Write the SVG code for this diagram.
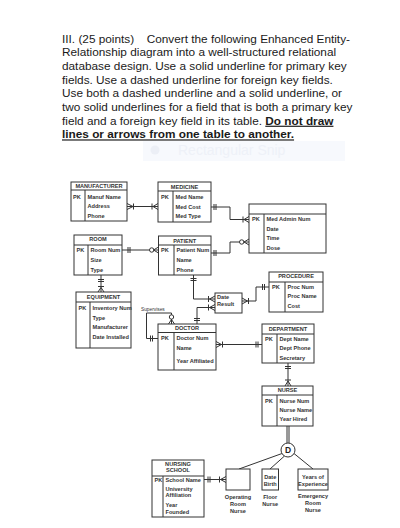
<svg xmlns="http://www.w3.org/2000/svg" width="400" height="528" viewBox="0 0 400 528">
<style>
.q{font-family:"Liberation Sans",Arial,sans-serif;font-size:11.8px;fill:#1a1a1a}
.b{font-weight:bold;text-decoration:underline}
.t{font-family:"Liberation Sans",Arial,sans-serif;font-size:5.6px;font-weight:bold;fill:#333}
.c{text-anchor:middle}
.bx{fill:#fff;stroke:#333;stroke-width:1}
.ln{fill:none;stroke:#333;stroke-width:1}
.sm{font-family:"Liberation Sans",Arial,sans-serif;font-size:4.8px;fill:#333}
</style>
<rect width="400" height="528" fill="#fff"/>
<rect x="143" y="141" width="202" height="20" fill="#f7f9fd"/>
<circle cx="155" cy="150" r="4.5" fill="#eceff6"/>
<text x="178" y="155.3" font-family="Liberation Sans,Arial,sans-serif" font-size="14" fill="#eef1f8">Rectangular Snip</text>
<g id="question">
<text class="q" x="62" y="42.5">III. (25 points)<tspan x="146.7">Convert the following Enhanced Entity-</tspan></text>
<text class="q" x="62" y="56.2">Relationship diagram into a well-structured relational</text>
<text class="q" x="62" y="69.9">database design. Use a solid underline for primary key</text>
<text class="q" x="62" y="83.6">fields. Use a dashed underline for foreign key fields.</text>
<text class="q" x="62" y="97.3">Use both a dashed underline and a solid underline, or</text>
<text class="q" x="62" y="111">two solid underlines for a field that is both a primary key</text>
<text class="q" x="62" y="124.7">field and a foreign key field in its table. <tspan class="b">Do not draw</tspan></text>
<text class="q b" x="62" y="138.4">lines or arrows from one table to another.</text>
</g>
<g id="connectors" class="ln">
<path d="M127,206.5H158"/>
<path d="M133,206.5L127,203.5M133,206.5L127,209.5M133.5,203.5V209.5"/>
<path d="M153,206.5L158,203.5M153,206.5L158,209.5M152,203.5V209.5"/>
<path d="M211,207H230V219.5H249"/>
<path d="M214,204V210M216,204V210"/>
<path d="M244,219.5L249,216.5M244,219.5L249,222.5M243,216.5V222.5"/>
<path d="M211,253H230V242H239.5M243.8,242H249"/>
<circle cx="241.7" cy="242" r="2.2"/>
<path d="M244,242L249,239M244,242L249,245"/>
<path d="M214,250V256M216,250V256"/>
<path d="M122,250H149.5M153.8,250H158.5"/>
<circle cx="151.7" cy="250" r="2.2"/>
<path d="M153.5,250L158.5,247M153.5,250L158.5,253"/>
<path d="M128,247V253M130,247V253"/>
<path d="M101,275V292"/>
<path d="M98,279.5H104M98,281.5H104"/>
<path d="M98,286.5H104M101,287.5L98,292M101,287.5L104,292"/>
<path d="M193.5,275V299H215"/>
<path d="M190.5,278.5H196.5M190.5,280.5H196.5"/>
<path d="M209.5,299L215,296M209.5,299L215,302M208.5,296V302"/>
<path d="M242,301H256V287H269"/>
<path d="M247.5,301L242,298M247.5,301L242,304M248.5,298V304"/>
<path d="M262.5,284V290M264.5,284V290"/>
<path d="M215,307.5H197V324"/>
<path d="M209.5,307.5L215,304.5M209.5,307.5L215,310.5M208.5,304.5V310.5"/>
<path d="M194,318.5H200M194,320.5H200"/>
<path d="M158,338.5H146.5V313H171.5V314.8M171.5,319.2V324"/>
<circle cx="171.5" cy="317" r="2.2"/>
<path d="M171.5,319.5L168.5,324M171.5,319.5L174.5,324"/>
<path d="M150.5,335.5V341.5M152.5,335.5V341.5"/>
<path d="M216,344.5H262"/>
<path d="M221.5,344.5L216,341.5M221.5,344.5L216,347.5M222.5,341.5V347.5"/>
<path d="M256,341.5V347.5M258,341.5V347.5"/>
<path d="M288,363V386"/>
<path d="M285,366.5H291M285,368.5H291"/>
<path d="M285,380H291M288,381L285,386M288,381L291,386"/>
<path d="M287,426V443.2M289,426V443.2"/>
<path d="M282,453.5L239,469M284.5,456L270,469M294,453.5L313,469"/>
<path d="M204,479.5H226"/>
<path d="M208,476.5V482.5M210,476.5V482.5"/>
<path d="M220.5,479.5L226,476.5M220.5,479.5L226,482.5M219.5,476.5V482.5"/>
</g>
<text class="sm" x="141" y="310.8">Supervises</text>
<g id="manufacturer">
<rect class="bx" x="71" y="182" width="56" height="39"/>
<path class="ln" d="M71,190H127M85,190V221"/>
<text class="t c" x="99" y="187.8">MANUFACTURER</text>
<text class="t" x="73" y="198.5">PK</text>
<text class="t" x="87.5" y="198.5">Manuf Name</text>
<text class="t" x="87.5" y="208.3">Address</text>
<text class="t" x="87.5" y="218">Phone</text>
</g>
<g id="medicine">
<rect class="bx" x="158" y="182" width="53" height="40"/>
<path class="ln" d="M158,191H211M173,191V222"/>
<text class="t c" x="184.5" y="188.7">MEDICINE</text>
<text class="t" x="161" y="198.7">PK</text>
<text class="t" x="175.5" y="198.7">Med Name</text>
<text class="t" x="175.5" y="208.5">Med Cost</text>
<text class="t" x="175.5" y="218">Med Type</text>
</g>
<g id="med-admin">
<rect class="bx" x="249" y="204" width="77" height="49"/>
<path class="ln" d="M249,214H326M264,214V253"/>
<text class="t" x="252" y="221.3">PK</text>
<text class="t" x="266.5" y="221.3">Med Admin Num</text>
<text class="t" x="266.5" y="231">Date</text>
<text class="t" x="266.5" y="240.3">Time</text>
<text class="t" x="266.5" y="250">Dose</text>
</g>
<g id="room">
<rect class="bx" x="74" y="235" width="48" height="40"/>
<path class="ln" d="M74,245H122M88,245V275"/>
<text class="t c" x="98" y="241.2">ROOM</text>
<text class="t" x="76.5" y="252">PK</text>
<text class="t" x="90.5" y="252">Room Num</text>
<text class="t" x="90.5" y="261.8">Size</text>
<text class="t" x="90.5" y="271.5">Type</text>
</g>
<g id="patient">
<rect class="bx" x="158.5" y="236" width="52.5" height="39"/>
<path class="ln" d="M158.5,245H211M174,245V275"/>
<text class="t c" x="184.7" y="242.5">PATIENT</text>
<text class="t" x="161" y="252">PK</text>
<text class="t" x="176.5" y="252">Patient Num</text>
<text class="t" x="176.5" y="261.8">Name</text>
<text class="t" x="176.5" y="271.5">Phone</text>
</g>
<g id="procedure">
<rect class="bx" x="269" y="272" width="54" height="40"/>
<path class="ln" d="M269,282H323M285,282V312"/>
<text class="t c" x="296" y="278.2">PROCEDURE</text>
<text class="t" x="272" y="288.8">PK</text>
<text class="t" x="287.5" y="288.8">Proc Num</text>
<text class="t" x="287.5" y="298.2">Proc Name</text>
<text class="t" x="287.5" y="307.5">Cost</text>
</g>
<g id="date-result">
<rect class="bx" x="215" y="293" width="27" height="20"/>
<text class="t" x="217" y="299">Date</text>
<text class="t" x="217" y="305.8">Result</text>
</g>
<g id="equipment">
<rect class="bx" x="76" y="292" width="55" height="56"/>
<path class="ln" d="M76,302H131M90,302V348"/>
<text class="t c" x="103.5" y="299.3">EQUIPMENT</text>
<text class="t" x="78.5" y="310.3">PK</text>
<text class="t" x="92.5" y="310.3">Inventory Num</text>
<text class="t" x="92.5" y="319.5">Type</text>
<text class="t" x="92.5" y="328.8">Manufacturer</text>
<text class="t" x="92.5" y="338.7">Date Installed</text>
</g>
<g id="doctor">
<rect class="bx" x="158" y="324" width="58" height="46"/>
<path class="ln" d="M158,332.5H216M174,332.5V370"/>
<text class="t c" x="187" y="330.3">DOCTOR</text>
<text class="t" x="161" y="340.3">PK</text>
<text class="t" x="176.5" y="340.3">Doctor Num</text>
<text class="t" x="176.5" y="350">Name</text>
<text class="t" x="176.5" y="363.3">Year Affiliated</text>
</g>
<g id="department">
<rect class="bx" x="262" y="324" width="52" height="39"/>
<path class="ln" d="M262,334H314M277,334V363"/>
<text class="t c" x="288" y="331">DEPARTMENT</text>
<text class="t" x="265" y="341">PK</text>
<text class="t" x="279.5" y="341">Dept Name</text>
<text class="t" x="279.5" y="350.3">Dept Phone</text>
<text class="t" x="279.5" y="359.7">Secretary</text>
</g>
<g id="nurse">
<rect class="bx" x="262" y="386" width="51" height="40"/>
<path class="ln" d="M262,395H313M277,395V426"/>
<text class="t c" x="287.5" y="392.2">NURSE</text>
<text class="t" x="265" y="402.7">PK</text>
<text class="t" x="279.5" y="402.7">Nurse Num</text>
<text class="t" x="279.5" y="412">Nurse Name</text>
<text class="t" x="279.5" y="421.3">Year Hired</text>
</g>
<g id="disjoint">
<circle cx="288" cy="450" r="7" fill="#fff" stroke="#333" stroke-width="1"/>
<text x="288" y="453" text-anchor="middle" font-family="Liberation Sans,Arial,sans-serif" font-size="8.5" font-weight="bold" fill="#222">D</text>
</g>
<g id="operating-room-nurse">
<rect class="bx" x="226" y="469" width="24" height="21"/>
<text class="t c" x="238" y="498.5">Operating</text>
<text class="t c" x="238" y="505.5">Room</text>
<text class="t c" x="238" y="512.5">Nurse</text>
</g>
<g id="floor-nurse">
<rect class="bx" x="262" y="469" width="16.5" height="21"/>
<text class="t c" x="270.2" y="478.5">Date</text>
<text class="t c" x="270.2" y="485.5">Birth</text>
<text class="t c" x="270.2" y="499">Floor</text>
<text class="t c" x="270.2" y="506">Nurse</text>
</g>
<g id="emergency-room-nurse">
<rect class="bx" x="298" y="469" width="30" height="21"/>
<text class="t c" x="313" y="478.5">Years of</text>
<text class="t c" x="313" y="485.5">Experience</text>
<text class="t c" x="313" y="498">Emergency</text>
<text class="t c" x="313" y="505">Room</text>
<text class="t c" x="313" y="512">Nurse</text>
</g>
<g id="nursing-school">
<rect class="bx" x="152" y="460" width="52" height="57"/>
<path class="ln" d="M152,476H204M163,476V517"/>
<text class="t c" x="178" y="465.5">NURSING</text>
<text class="t c" x="178" y="472.3">SCHOOL</text>
<text class="t" x="154.5" y="481.5">PK</text>
<text class="t" x="165.5" y="481.5">School Name</text>
<text class="t" x="165.5" y="490.5">University</text>
<text class="t" x="165.5" y="497.2">Affiliation</text>
<text class="t" x="165.5" y="507">Year</text>
<text class="t" x="165.5" y="514.3">Founded</text>
</g>
</svg>
